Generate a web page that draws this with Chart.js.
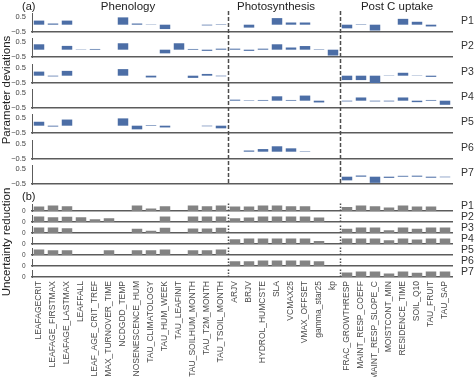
<!DOCTYPE html>
<html>
<head>
<meta charset="utf-8">
<script src="https://cdn.jsdelivr.net/npm/chart.js@4"></script>
<style>
  body { margin: 0; background: #fff; }
  #wrap { position: relative; width: 474px; height: 377px; overflow: hidden; }
  #wrap canvas { position: absolute; left: 0; top: 0; }
</style>
</head>
<body>
<div id="wrap"></div>
<script>
// categories, grouped: Phenology (14), Photosynthesis (8), Post C uptake (8)
const categories = [
  'LEAFAGECRIT', 'LEAFAGE_FIRSTMAX', 'LEAFAGE_LASTMAX', 'LEAFFALL', 'LEAF_AGE_CRIT_TREF',
  'MAX_TURNOVER_TIME', 'NCDGDD_TEMP', 'NOSENESCENCE_HUM', 'TAU_CLIMATOLOGY', 'TAU_HUM_WEEK',
  'TAU_LEAFINIT', 'TAU_SOILHUM_MONTH', 'TAU_T2M_MONTH', 'TAU_TSOIL_MONTH',
  'ARJV', 'BRJV', 'HYDROL_HUMCSTE', 'SLA', 'VCMAX25', 'VMAX_OFFSET', 'gamma_star25', 'kp',
  'FRAC_GROWTHRESP', 'MAINT_RESP_COEFF', 'MAINT_RESP_SLOPE_C', 'MOISTCONT_MIN',
  'RESIDENCE_TIME', 'SOIL_Q10', 'TAU_FRUIT', 'TAU_SAP'
];
const groupTitles = ['Phenology', 'Photosynthesis', 'Post C uptake'];
const groupSizes = [14, 8, 8];
const panelNames = ['P1', 'P2', 'P3', 'P4', 'P5', 'P6', 'P7'];

// (a) parameter deviations
const n = null;
const devP1 = [0.28, 0.08, 0.28, n, n, n, 0.5, 0.08, 0.02, -0.3, n, n, -0.05, 0.03,
               n, -0.2, n, 0.45, 0.15, 0.15, n, n,
               -0.25, 0.03, -0.4, n, 0.4, 0.2, -0.12, n];
const devP2 = [0.37, n, 0.26, 0.02, 0.05, n, 0.44, n, n, -0.25, 0.44, 0.05, -0.08, 0.07,
               0.07, -0.08, 0.07, 0.37, 0.15, 0.25, 0.03, -0.4,
               n, n, n, n, n, n, n, n];
const devP3 = [0.28, -0.05, 0.33, n, n, n, 0.45, n, -0.12, n, n, -0.15, 0.12, -0.04,
               n, n, n, n, n, n, n, n,
               -0.3, -0.3, -0.5, 0.02, 0.2, 0.02, -0.08, n];
const devP4 = [n, n, n, n, n, n, n, n, n, n, n, n, n, n,
               0.07, 0.03, 0.05, 0.3, 0.05, 0.35, -0.12, n,
               -0.05, 0.22, -0.05, -0.05, 0.22, -0.1, 0.05, -0.28];
const devP5 = [0.27, -0.06, 0.42, n, n, n, 0.5, -0.25, 0.04, -0.12, n, n, -0.04, -0.18,
               n, n, n, n, n, n, n, n,
               n, n, n, n, n, n, n, n];
const devP6 = [n, n, n, n, n, n, n, n, n, n, n, n, n, n,
               n, 0.08, 0.18, 0.37, 0.23, 0.03, n, n,
               n, n, n, n, n, n, n, n];
const devP7 = [n, n, n, n, n, n, n, n, n, n, n, n, n, n,
               n, n, n, n, n, n, n, n,
               -0.25, 0.08, -0.42, -0.08, 0.06, 0.07, -0.07, -0.04];

// (b) uncertainty reduction
const redP1 = [85, 100, 90, n, n, n, n, 100, 45, 90, n, 100, 90, 100,
               85, 85, 100, 100, 90, 90, n, n,
               75, 100, 90, 65, 100, 85, 85, n];
const redP2 = [100, 90, 95, 90, 50, 70, n, n, n, 100, n, 100, 100, 100,
               70, 85, 100, 100, 100, 100, 85, n,
               n, n, n, n, n, n, n, n];
const redP3 = [100, 100, 90, n, n, n, n, 80, 40, 95, n, 85, 85, 95,
               n, n, n, n, n, n, n, n,
               80, 100, 100, 50, 100, 80, 100, 100];
const redP4 = [n, n, n, n, n, n, n, n, n, n, n, n, n, n,
               90, 100, 100, 100, 100, 100, 55, n,
               100, 100, 100, 70, 100, 85, 100, 100];
const redP5 = [100, 90, 90, n, n, 90, n, 90, 90, 100, n, 90, 90, 100,
               n, n, n, n, n, n, n, n,
               n, n, n, n, n, n, n, n];
const redP6 = [n, n, n, n, n, n, n, n, n, n, n, n, n, n,
               90, 90, 100, 100, 100, 100, 90, n,
               n, n, n, n, n, n, n, n];
const redP7 = [n, n, n, n, n, n, n, n, n, n, n, n, n, n,
               n, n, n, n, n, n, n, n,
               85, 100, 100, 65, 100, 80, 100, 100];

const devTicks = [-0.5, 0.5];
const redTicks = [0, 100];

const devSeries = [devP1, devP2, devP3, devP4, devP5, devP6, devP7];
const redSeries = [redP1, redP2, redP3, redP4, redP5, redP6, redP7];

// layout (pixels)
const W = 474, H = 377;
const PLOT_L = 32, PLOT_R = 452;
const aBottoms = [32, 57, 83, 108, 133, 159, 184], aHeight = 19;
const bBottoms = [211, 222, 233, 244, 255, 266, 277], bHeight = 6.5;
const titleX = [128, 276, 397];

const BLUE = '#4c6ea6', GREY = '#838383', AXIS = '#5c5c5c';
const FONT = '"Liberation Sans", Arial, sans-serif';
Chart.defaults.font.family = FONT;
Chart.defaults.color = '#444';

// group separators sit between categories
const splits = [];
let acc = 0;
groupSizes.slice(0, -1).forEach(s => { acc += s; splits.push(acc - 0.5); });

const wrap = document.getElementById('wrap');

// panel name on the right + dashed group separators
function sideDecor(name, isB, k) {
  return {
    id: 'side',
    afterDraw(chart) {
      const { ctx, chartArea: { top, bottom }, scales: { x } } = chart;
      ctx.save();
      ctx.fillStyle = '#333';
      ctx.font = '10.5px ' + FONT;
      ctx.textBaseline = 'middle';
      ctx.textAlign = 'left';
      ctx.fillText(name, 461, isB ? bottom - 4.5 : bottom - 10.5);
      if (isB || k === 6) {
        ctx.strokeStyle = '#4d4d4d';
        ctx.lineWidth = 1.5;
        ctx.setLineDash(isB ? [1.5, 1.5] : [4, 2]);
        splits.forEach(v => {
          const px = Math.round(x.getPixelForValue(v)) + 0.5;
          ctx.beginPath();
          ctx.moveTo(px, isB ? top - 1 : 11);
          ctx.lineTo(px, bottom);
          ctx.stroke();
        });
      }
      ctx.restore();
    }
  };
}

// titles, panel letters, axis titles
const headings = {
  id: 'headings',
  afterDraw(chart) {
    const { ctx } = chart;
    ctx.save();
    ctx.fillStyle = '#222';
    ctx.textBaseline = 'middle';
    ctx.font = '11.5px ' + FONT;
    ctx.textAlign = 'center';
    groupTitles.forEach((t, i) => ctx.fillText(t, titleX[i], 6.5));
    ctx.textAlign = 'left';
    ctx.font = '11px ' + FONT;
    ctx.fillText('(a)', 22, 6.5);
    ctx.fillText('(b)', 22, 197);
    ctx.font = '11.5px ' + FONT;
    ctx.textAlign = 'center';
    ctx.save();
    ctx.translate(7, 90);
    ctx.rotate(-Math.PI / 2);
    ctx.fillText('Parameter deviations', 0, 0);
    ctx.restore();
    ctx.translate(7, 242);
    ctx.rotate(-Math.PI / 2);
    ctx.fillText('Uncertainty reduction', 0, 0);
    ctx.restore();
  }
};

function makePanel(values, k, isB) {
  const bottom = isB ? bBottoms[k] : aBottoms[k];
  const h = isB ? bHeight : aHeight;
  const last = isB && k === 6;
  const cv = document.createElement('canvas');
  cv.width = W;
  cv.height = H;
  wrap.appendChild(cv);
  const extra = [sideDecor(panelNames[k], isB, k)];
  if (!isB && k === 0) extra.push(headings);
  return new Chart(cv, {
    type: 'bar',
    data: {
      labels: categories,
      datasets: [{
        data: values,
        backgroundColor: isB ? GREY : BLUE,
        barPercentage: 0.75,
        categoryPercentage: 1
      }]
    },
    options: {
      responsive: false,
      animation: false,
      events: [],
      layout: {
        padding: { left: isB ? 22 : 0, right: W - PLOT_R, top: bottom - h, bottom: last ? 0 : H - bottom }
      },
      scales: {
        x: {
          grid: { display: false, drawTicks: false },
          border: { color: AXIS, width: 1.5 },
          ticks: {
            display: last, autoSkip: false, maxRotation: 90, minRotation: 90,
            padding: 4, font: { size: 8.5 }, color: '#4a4a4a'
          },
          afterFit(s) { s.height = last ? H - bottom : 0; }
        },
        y: {
          min: isB ? 0 : -0.5,
          max: isB ? 120 : 0.8,
          grid: { display: false, drawTicks: false },
          border: { color: AXIS, width: 1 },
          ticks: {
            font: { size: isB ? 6.5 : 7.5 },
            color: '#444',
            padding: isB ? 0 : 6,
            crossAlign: isB ? 'far' : 'near',
            callback: v => (v < 0 ? '\u2212' : '') + Math.abs(v)
          },
          afterBuildTicks(s) { s.ticks = (isB ? redTicks : devTicks).map(v => ({ value: v })); },
          afterFit(s) { s.width = isB ? PLOT_L - 22 : PLOT_L; }
        }
      },
      plugins: {
        legend: { display: false },
        tooltip: { enabled: false }
      }
    },
    plugins: extra
  });
}

devSeries.forEach((vals, k) => makePanel(vals, k, false));
redSeries.forEach((vals, k) => makePanel(vals, k, true));
</script>
</body>
</html>
